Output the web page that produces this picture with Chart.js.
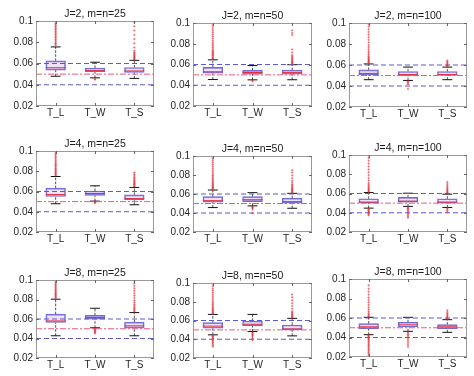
<!DOCTYPE html>
<html>
<head>
<meta charset="utf-8">
<script src="https://cdn.jsdelivr.net/npm/chart.js@4.4.1/dist/chart.umd.min.js"></script>
<style>
  html, body { margin: 0; padding: 0; background: #fff; }
  body { position: relative; width: 474px; height: 376px; overflow: hidden; }
  canvas { position: absolute; }
</style>
</head>
<body>
<script>
const categories = ['T_L', 'T_W', 'T_S'];
const titles = ['J=2, m=n=25', 'J=2, m=n=50', 'J=2, m=n=100',
                'J=4, m=n=25', 'J=4, m=n=50', 'J=4, m=n=100',
                'J=8, m=n=25', 'J=8, m=n=50', 'J=8, m=n=100'];
const yTicks = [0.02, 0.04, 0.06, 0.08, 0.1];
const refBlue = [0.04, 0.06];
const refRed = 0.05;

// one row per panel, columns are T_L, T_W, T_S
const q1 = [
  [0.0538, 0.0522, 0.0515], [0.0516, 0.0507, 0.0506], [0.0506, 0.0497, 0.0500],
  [0.0551, 0.0561, 0.0518], [0.0513, 0.0520, 0.0503], [0.0500, 0.0510, 0.0500],
  [0.0564, 0.0598, 0.0506], [0.0517, 0.0542, 0.0500], [0.0491, 0.0508, 0.0491]
];
const median = [
  [0.0560, 0.0535, 0.0530], [0.0530, 0.0523, 0.0522], [0.0520, 0.0510, 0.0510],
  [0.0570, 0.0580, 0.0530], [0.0530, 0.0540, 0.0520], [0.0510, 0.0520, 0.0510],
  [0.0580, 0.0615, 0.0530], [0.0540, 0.0560, 0.0510], [0.0510, 0.0530, 0.0510]
];
const q3 = [
  [0.0625, 0.0558, 0.0562], [0.0572, 0.0543, 0.0546], [0.0553, 0.0538, 0.0538],
  [0.0633, 0.0605, 0.0567], [0.0572, 0.0572, 0.0555], [0.0545, 0.0559, 0.0545],
  [0.0650, 0.0637, 0.0568], [0.0577, 0.0595, 0.0552], [0.0542, 0.0556, 0.0532]
];
const whiskerLow = [
  [0.0480, 0.0465, 0.0460], [0.0455, 0.0452, 0.0453], [0.0460, 0.0453, 0.0460],
  [0.0479, 0.0505, 0.0469], [0.0457, 0.0475, 0.0450], [0.0448, 0.0466, 0.0455],
  [0.0428, 0.0510, 0.0428], [0.0447, 0.0482, 0.0436], [0.0429, 0.0463, 0.0453]
];
const whiskerHigh = [
  [0.0756, 0.0612, 0.0630], [0.0645, 0.0590, 0.0598], [0.0610, 0.0580, 0.0580],
  [0.0748, 0.0656, 0.0640], [0.0642, 0.0614, 0.0607], [0.0610, 0.0603, 0.0593],
  [0.0803, 0.0710, 0.0666], [0.0665, 0.0665, 0.0623], [0.0607, 0.0607, 0.0583]
];
const outliers = [
  [[0.077, 0.0785, 0.079, 0.0805, 0.082, 0.083, 0.0845, 0.0855, 0.087, 0.088, 0.0895, 0.0905, 0.092, 0.093, 0.0945, 0.0955, 0.097, 0.098, 0.0995],
   [0.0455, 0.0448],
   [0.0638, 0.0645, 0.0652, 0.066, 0.0668, 0.0675, 0.0685, 0.0695, 0.0705, 0.072, 0.075, 0.079, 0.083, 0.087, 0.091, 0.095, 0.0985]],
  [[0.0655, 0.066, 0.067, 0.068, 0.069, 0.0695, 0.0705, 0.0715, 0.0725, 0.0735, 0.075, 0.0765, 0.078, 0.0795, 0.081, 0.083, 0.085, 0.087, 0.089, 0.091, 0.093, 0.095, 0.097, 0.099],
   [0.0445, 0.0438],
   [0.0605, 0.0612, 0.062, 0.0628, 0.0635, 0.0645, 0.0655, 0.0665, 0.0678, 0.069, 0.0715, 0.0745, 0.0885, 0.0905, 0.093]],
  [[0.0618, 0.0625, 0.0632, 0.064, 0.0648, 0.0655, 0.0665, 0.0675, 0.0685, 0.07, 0.0715, 0.073, 0.075, 0.077, 0.079, 0.0815, 0.084, 0.0865, 0.089, 0.0915, 0.094, 0.0965, 0.099],
   [0.0445, 0.0438, 0.0428, 0.0415, 0.0372],
   [0.0588, 0.0595, 0.0603, 0.061, 0.062, 0.063, 0.0642]],
  [[0.0758, 0.0768, 0.0778, 0.0788, 0.0798, 0.081, 0.082, 0.083, 0.0842, 0.0855, 0.0865, 0.0878, 0.089, 0.0905, 0.092, 0.0935, 0.095, 0.0965, 0.098, 0.0995],
   [0.0498, 0.0492, 0.0486],
   [0.0648, 0.0655, 0.0662, 0.067, 0.0678, 0.0686, 0.0695, 0.0705, 0.0715, 0.0728, 0.074, 0.0755, 0.077, 0.0788]],
  [[0.0652, 0.066, 0.0668, 0.0676, 0.0685, 0.0695, 0.0705, 0.0715, 0.0725, 0.0738, 0.075, 0.0765, 0.078, 0.0795, 0.081, 0.083, 0.085, 0.087, 0.089, 0.091, 0.093, 0.095, 0.097, 0.099],
   [0.0465, 0.0458, 0.045, 0.044, 0.0398],
   [0.0615, 0.0622, 0.063, 0.0638, 0.0646, 0.0655, 0.0665, 0.0675, 0.0688, 0.07, 0.0718, 0.0738, 0.0765, 0.0795, 0.0825, 0.0852]],
  [[0.0618, 0.0626, 0.0635, 0.0645, 0.0655, 0.0668, 0.068, 0.0695, 0.071, 0.0735, 0.076, 0.079, 0.082, 0.085, 0.088, 0.091, 0.094, 0.097, 0.0995,
    0.044, 0.0432, 0.0424, 0.0415, 0.0405, 0.0395, 0.0385, 0.0375],
   [0.0458, 0.045, 0.0442, 0.0432, 0.042, 0.0408, 0.0395, 0.038, 0.0365, 0.035],
   [0.0602, 0.061, 0.0618, 0.0628, 0.0638, 0.065, 0.0665, 0.068, 0.0698, 0.0718, 0.0448, 0.0438, 0.0422, 0.0405]],
  [[0.0812, 0.0822, 0.0832, 0.0842, 0.0852, 0.0862, 0.0872, 0.0884, 0.0895, 0.0905, 0.0918, 0.093, 0.0942, 0.0955, 0.0968, 0.098, 0.0993],
   [0.0502, 0.0495, 0.0488, 0.048, 0.0472, 0.0462, 0.0452],
   [0.0675, 0.0685, 0.0695, 0.0708, 0.072, 0.0735, 0.075, 0.077, 0.079, 0.0815, 0.084, 0.0865, 0.089, 0.0915, 0.094, 0.0965, 0.099]],
  [[0.0672, 0.068, 0.0688, 0.0698, 0.0708, 0.0718, 0.073, 0.0742, 0.0755, 0.077, 0.0785, 0.08, 0.082, 0.084, 0.086, 0.088, 0.09, 0.092, 0.094, 0.0965, 0.099,
    0.0438, 0.043, 0.0422, 0.0412, 0.0402, 0.039, 0.0378, 0.0365, 0.0352, 0.0338, 0.0322],
   [0.0474, 0.0466, 0.0458, 0.0448, 0.0438, 0.0425, 0.041, 0.0392],
   [0.063, 0.0637, 0.0645, 0.0654, 0.0663, 0.0673, 0.0685, 0.0698, 0.0725, 0.0755, 0.0785, 0.0815, 0.0848, 0.0878]],
  [[0.0615, 0.0625, 0.0638, 0.065, 0.0668, 0.0688, 0.071, 0.0735, 0.076, 0.0785, 0.081, 0.084, 0.087, 0.09, 0.0935,
    0.0422, 0.0414, 0.0405, 0.0396, 0.0386, 0.0376, 0.0365, 0.0354, 0.0342, 0.033, 0.0318, 0.0305, 0.0292, 0.0278, 0.0265, 0.025, 0.0235, 0.022, 0.0205],
   [0.0455, 0.0445, 0.0432, 0.0418, 0.0402, 0.0385, 0.0365, 0.0345, 0.0325, 0.0305],
   [0.0592, 0.06, 0.061, 0.062, 0.0632, 0.0645, 0.066, 0.0678]]
];

// where each axes box sits on the page
const plotLeft = [36, 193, 349];
const plotRight = [154, 312, 467];
const plotTop = [21, 23, 23, 151, 156, 155, 280, 283, 279];
const plotBottom = [106, 106, 107, 232, 232, 232, 358, 358, 357];
const AXW = 36, TITLEH = 18, XAXH = 18;

Chart.defaults.font.family = '"Liberation Sans", Arial, Helvetica, sans-serif';
Chart.defaults.font.size = 10;
Chart.defaults.color = '#262626';

// axes box with inward ticks on all four sides, like the original figure
const frame = {
  id: 'frame',
  afterDraw(chart) {
    const { ctx, chartArea: a, scales } = chart;
    ctx.save();
    ctx.strokeStyle = '#9a9a9a';
    ctx.lineWidth = 1;
    ctx.strokeRect(a.left + 0.5, a.top + 0.5, a.right - a.left - 1, a.bottom - a.top - 1);
    ctx.strokeStyle = '#666';
    ctx.beginPath();
    yTicks.forEach(v => {
      const y = Math.round(scales.y.getPixelForValue(v)) + 0.5;
      ctx.moveTo(a.left, y); ctx.lineTo(a.left + 3, y);
      ctx.moveTo(a.right, y); ctx.lineTo(a.right - 3, y);
    });
    [1, 2, 3].forEach(v => {
      const x = Math.round(scales.x.getPixelForValue(v)) + 0.5;
      ctx.moveTo(x, a.bottom); ctx.lineTo(x, a.bottom - 3);
      ctx.moveTo(x, a.top); ctx.lineTo(x, a.top + 3);
    });
    ctx.stroke();
    ctx.restore();
  }
};

function drawPanel(i) {
  const col = i % 3;
  const w = plotRight[col] - plotLeft[col];
  const h = plotBottom[i] - plotTop[i];
  const cv = document.createElement('canvas');
  cv.width = w + 2 * AXW;
  cv.height = h + TITLEH + XAXH;
  cv.style.left = (plotLeft[col] - AXW) + 'px';
  cv.style.top = (plotTop[i] - TITLEH) + 'px';
  document.body.appendChild(cv);

  const xs = [1, 2, 3];
  const whisk = [];
  xs.forEach((x, k) => {
    whisk.push({ x, y: q3[i][k] }, { x, y: whiskerHigh[i][k] }, { x, y: null },
               { x, y: whiskerLow[i][k] }, { x, y: q1[i][k] }, { x, y: null });
  });
  const caps = [];
  xs.forEach((x, k) => caps.push({ x, y: whiskerLow[i][k] }, { x, y: whiskerHigh[i][k] }));
  const outs = [];
  xs.forEach((x, k) => outliers[i][k].forEach(v => outs.push({ x, y: v })));
  const hline = v => [{ x: 0.5, y: v }, { x: 3.5, y: v }];

  new Chart(cv, {
    type: 'bar',
    data: {
      datasets: [
        { type: 'scatter', data: outs, pointStyle: 'cross', pointRadius: 1.2,
          borderColor: 'rgba(225,50,60,0.8)', borderWidth: 0.7, order: 0 },
        { type: 'scatter', data: xs.map((x, k) => ({ x, y: median[i][k] })), pointStyle: 'line',
          pointRadius: w / 12, borderColor: '#e03040', borderWidth: 1, order: 1 },
        { type: 'line', data: hline(refRed), borderColor: '#ea5a78', borderWidth: 1,
          borderDash: [6, 2, 2, 2], pointRadius: 0, order: 2 },
        { type: 'line', data: hline(refBlue[0]), borderColor: '#5a5ad6', borderWidth: 1,
          borderDash: [5, 3], pointRadius: 0, order: 2 },
        { type: 'line', data: hline(refBlue[1]), borderColor: '#5a5ad6', borderWidth: 1,
          borderDash: [5, 3], pointRadius: 0, order: 2 },
        { type: 'bar', data: xs.map((x, k) => ({ x, y: [q1[i][k], q3[i][k]] })),
          barThickness: w / 6, backgroundColor: 'rgba(215,170,230,0.35)',
          borderColor: '#6a6ae0', borderWidth: 1, borderSkipped: false, order: 3 },
        { type: 'scatter', data: caps, pointStyle: 'line', pointRadius: w / 24,
          borderColor: '#111', borderWidth: 1, order: 4 },
        { type: 'line', data: whisk, borderColor: '#222', borderWidth: 0.8,
          borderDash: [2.5, 1.5], pointRadius: 0, spanGaps: false, order: 5 }
      ]
    },
    options: {
      responsive: false,
      animation: false,
      events: [],
      layout: { padding: 0 },
      plugins: {
        legend: { display: false },
        tooltip: { enabled: false },
        title: {
          display: true, text: titles[i], color: '#1a1a1a',
          font: { size: 10.5, weight: 'normal' },
          padding: { top: 4.4, bottom: 1 }
        }
      },
      scales: {
        x: {
          type: 'linear', min: 0.5, max: 3.5, offset: false,
          afterBuildTicks: s => { s.ticks = [1, 2, 3].map(v => ({ value: v })); },
          afterFit: s => { s.height = XAXH; },
          ticks: { callback: v => categories[v - 1], padding: 1, maxRotation: 0 },
          grid: { display: false, drawTicks: false },
          border: { display: false }
        },
        y: {
          min: 0.02, max: 0.1,
          afterBuildTicks: s => { s.ticks = yTicks.map(v => ({ value: v })); },
          afterFit: s => { s.width = AXW; },
          ticks: { callback: v => String(v), padding: 3 },
          grid: { display: false, drawTicks: false },
          border: { display: false }
        },
        // empty right-hand axis: keeps the title centred over the plot box
        yRight: {
          position: 'right', min: 0.02, max: 0.1,
          afterFit: s => { s.width = AXW; },
          ticks: { display: false },
          grid: { display: false, drawTicks: false },
          border: { display: false }
        }
      }
    },
    plugins: [frame]
  });
}

for (let i = 0; i < 9; i++) drawPanel(i);
</script>
</body>
</html>
